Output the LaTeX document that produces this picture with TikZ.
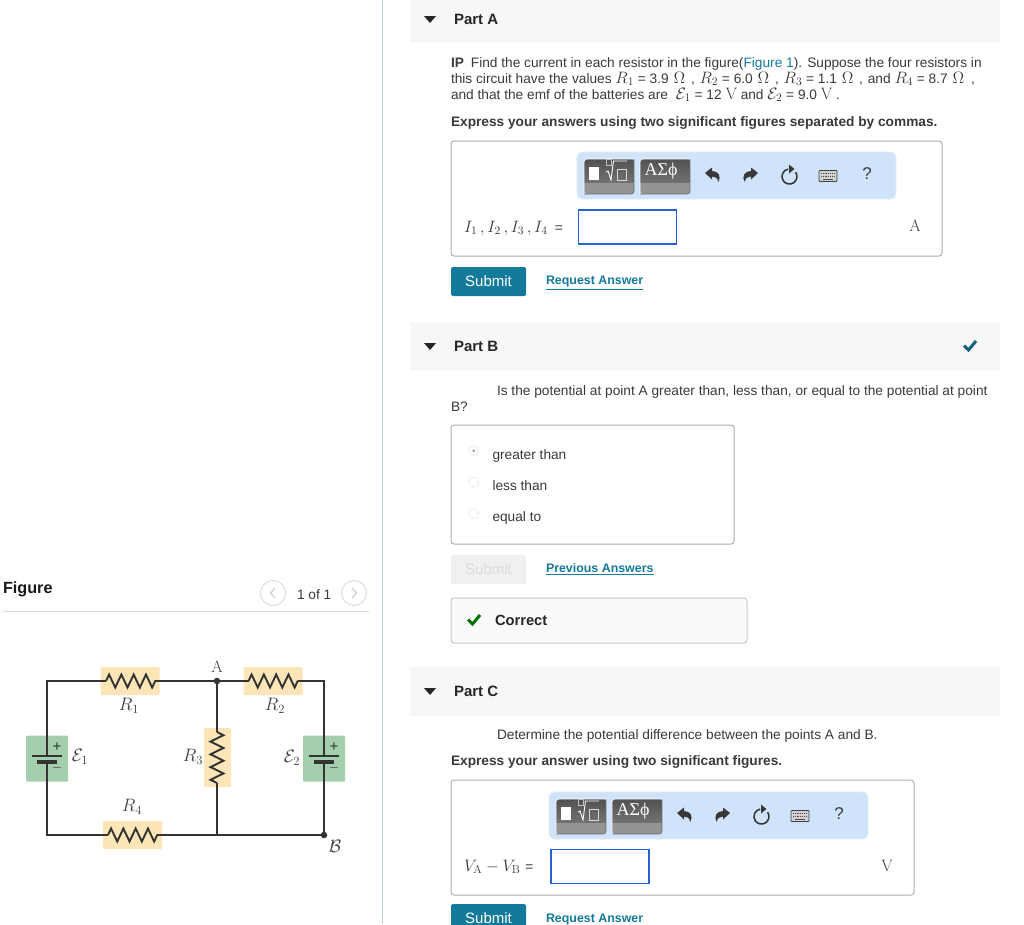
\documentclass[tikz,border=0pt]{standalone}
\usepackage{fix-cm}
\usepackage{amsmath}
\usepackage{fontspec}
\setsansfont{Liberation Sans}
\newfontfamily\greekserif{Liberation Serif}
\usetikzlibrary{decorations.pathmorphing}
\definecolor{inktext}{HTML}{3A3A3A}
\definecolor{linkteal}{HTML}{147A9C}
\definecolor{barfill}{HTML}{F7F7F7}
\definecolor{toolblue}{HTML}{CFE4FB}
\definecolor{framegray}{HTML}{ADADAD}
\definecolor{fieldblue}{RGB}{36,96,214}
\definecolor{resfill}{HTML}{FCE5B6}
\definecolor{batfill}{HTML}{A3CFAC}
\definecolor{wirecol}{HTML}{333333}
\definecolor{divblue}{HTML}{BCD3E8}
\newcommand{\sz}[1]{\fontsize{#1}{#1}\selectfont}
\newcommand{\mth}[1]{{\sz{16.5}$#1$}}
\newcommand{\mathbtn}[2]{%
	\begin{scope}
		\clip[rounded corners=3] (#1,7) rectangle ++(#2,35);
		\fill[top color=black!68,bottom color=black!55] (#1,7) rectangle ++(#2,24);
		\fill[black!42] (#1,31) rectangle ++(#2,11);
	\end{scope}
	\draw[white,line width=.7,rounded corners=3] (#1,42) -- (#1,7) -- ++(#2,0);
	\draw[black!60,line width=.6,rounded corners=3] (#1,42) -- ++(#2,0) -- ++(0,-35);
}
\newcommand{\toolbar}[3]{%
	\begin{scope}[shift={(#1,#2)}]
		\node[toolpanel] (#3panel) at (159.5,23.5) {};
		\mathbtn{7}{50}
		\mathbtn{63}{50}
		\fill[white] (12,15) rectangle (22,28);
		\draw[white,line width=.9] (29,20) -- (31,19) -- (34,28) -- (36.5,9) -- (50,9);
		\draw[black!25,line width=.7] (29,7.5) rectangle (34,13);
		\draw[black!15,line width=.8] (40.5,17) rectangle (49,28);
		\node[font=\greekserif\sz{18},text=white] (#3greek) at (84,19) {ΑΣϕ};
		\fill[black!78] (128,21) -- (135,15.5) -- (135,19) .. controls (141,19) and (145,24) .. (141,30) .. controls (141,26) and (138,24.5) .. (135,24.5) -- (135,27.5) -- cycle;
		\fill[black!78] (181,21) -- (174,15.5) -- (174,19) .. controls (168,19) and (164,24) .. (168,30) .. controls (168,26) and (171,24.5) .. (174,24.5) -- (174,27.5) -- cycle;
		\draw[black!78,line width=1.6] (218.6,20.2) arc (-35:260:7.5);
		\fill[black!78] (212,12.5) -- (217.5,17) -- (212,21.5) -- cycle;
		\draw[black!75,fill=black!18,line width=.8,rounded corners=.8] (242,18.5) rectangle (260,29.5);
		\draw[black!70,line width=1.3,dash pattern=on 1 off .8] (244,21.5) -- (258,21.5);
		\draw[black!70,line width=1.3,dash pattern=on 1 off .8] (244,24.5) -- (258,24.5);
		\draw[black!70,line width=1.2] (246,27.5) -- (256,27.5);
		\node[font=\sffamily\sz{17},text=inktext] (#3help) at (290,22) {?};
	\end{scope}
}
\tikzset{
	x=1pt,y=-1pt,
	every node/.style={inner sep=0pt,outer sep=0pt},
	bodytext/.style={anchor=base west,font=\sffamily\sz{13.7},text=inktext},
	boldtext/.style={anchor=base west,font=\sffamily\bfseries\sz{13.7},text=inktext},
	parttitle/.style={anchor=base west,font=\sffamily\bfseries\sz{15},text=black!85},
	partbar/.style={anchor=north west,rectangle,fill=barfill,minimum width=590pt,minimum height=49pt},
	partarrow/.style={fill=black!85},
	answerbox/.style={anchor=north west,rectangle,draw=framegray,line width=1pt,rounded corners=3pt},
	inputbox/.style={anchor=north west,rectangle,draw=fieldblue,line width=1.4pt,minimum width=98pt,minimum height=34pt},
	toolpanel/.style={rectangle,fill=toolblue,draw=black!8,line width=.6pt,rounded corners=5pt,minimum width=319pt,minimum height=47pt},
	submitbtn/.style={anchor=north west,rectangle,fill=linkteal,text=white,rounded corners=1.5pt,font=\sffamily\sz{15},minimum width=75pt,minimum height=29pt},
	linktext/.style={anchor=base west,font=\sffamily\bfseries\sz{12.4},text=linkteal},
	radio/.style={circle,draw=black!8,fill=white,line width=.8pt,minimum size=10pt},
	resbox/.style={rectangle,fill=resfill,rounded corners=1pt},
	batbox/.style={rectangle,fill=batfill,rounded corners=1pt,minimum width=42pt,minimum height=46pt},
	wire/.style={draw=wirecol,line width=1.6pt},
	zigwire/.style={draw=wirecol,line width=1.9pt,line join=miter,decorate,decoration={zigzag,segment length=12.3pt,amplitude=6.5pt}},
	junction/.style={circle,fill=wirecol,minimum size=6.5pt},
	circlabel/.style={font=\sz{18},text=black!75},
	pagebtn/.style={circle,draw=black!13,line width=1pt,minimum size=25pt},
	chevron/.style={draw=black!22,line width=1pt}
}
\begin{document}
\begin{tikzpicture}
	\clip (0,0) rectangle (1024,924);
	\fill[white] (0,0) rectangle (1024,924);

	\coordinate (divtop) at (382,0);
	\coordinate (divbot) at (382,924);
	\draw[divblue,line width=1pt] (divtop) -- (divbot);

	\node[anchor=base west,font=\sffamily\bfseries\sz{16.2},text=black!90] (figtitle) at (3,593.5) {Figure};
	\node[pagebtn] (prevbtn) at (273,593) {};
	\node[pagebtn] (nextbtn) at (354,593) {};
	\draw[chevron] (275,588) -- (270.5,593) -- (275,598);
	\draw[chevron] (352,588) -- (356.5,593) -- (352,598);
	\node[bodytext] (pagecount) at (297,599) {1 of 1};
	\coordinate (figl) at (3,611);
	\coordinate (figr) at (369,611);
	\draw[black!15,line width=.8pt] (figl) -- (figr);

	\node[resbox,minimum width=59pt,minimum height=28pt] (r1) at (130,681) {};
	\node[resbox,minimum width=59pt,minimum height=28pt] (r2) at (273,681) {};
	\node[resbox,minimum width=27pt,minimum height=59pt] (r3) at (217.5,757.5) {};
	\node[resbox,minimum width=59pt,minimum height=28pt] (r4) at (132.5,835) {};
	\node[batbox] (e1) at (47,758.5) {};
	\node[batbox] (e2) at (324,758.5) {};
	\coordinate (tl) at (47,681);
	\coordinate (tr) at (324,681);
	\coordinate (bl) at (47,835);
	\coordinate (j) at (217,835);
	\coordinate (r1a) at (106,681);
	\coordinate (r1b) at (155.2,681);
	\coordinate (r2a) at (248.5,681);
	\coordinate (r2b) at (297.7,681);
	\coordinate (r3a) at (217,732);
	\coordinate (r3b) at (217,783);
	\coordinate (r4a) at (108,835);
	\coordinate (r4b) at (157.2,835);
	\coordinate (e1p) at (47,756);
	\coordinate (e1n) at (47,762);
	\coordinate (e2p) at (324,756);
	\coordinate (e2n) at (324,762);
	\node[junction] (a) at (217,681) {};
	\node[junction] (b) at (324,835) {};
	\draw[wire] (e1p) -- (tl) -- (r1a);
	\draw[wire] (r1b) -- (a);
	\draw[wire] (a) -- (r2a);
	\draw[wire] (r2b) -- (tr) -- (e2p);
	\draw[wire] (e2n) -- (b);
	\draw[wire] (b) -- (j);
	\draw[wire] (j) -- (r4b);
	\draw[wire] (r4a) -- (bl) -- (e1n);
	\draw[wire] (a) -- (r3a);
	\draw[wire] (r3b) -- (j);
	\draw[zigwire] (r1a) -- (r1b);
	\draw[zigwire] (r2a) -- (r2b);
	\draw[zigwire] (r4a) -- (r4b);
	\draw[zigwire,decoration={segment length=12.75pt}] (r3a) -- (r3b);
	\draw[wirecol,line width=1.8pt] (32,756) -- (62,756);
	\draw[wirecol,line width=3.2pt] (37,762) -- (57,762);
	\draw[wirecol,line width=1.8pt] (309,756) -- (339,756);
	\draw[wirecol,line width=3.2pt] (314,762) -- (334,762);
	\node[font=\sffamily\sz{15},text=black!80] (e1plus) at (57,747) {+};
	\node[font=\sffamily\sz{14},text=black!60] (e1minus) at (57,769) {–};
	\node[font=\sffamily\sz{15},text=black!80] (e2plus) at (334,747) {+};
	\node[font=\sffamily\sz{14},text=black!60] (e2minus) at (334,769) {–};
	\node[circlabel] (r1lab) at (129,706) {$R_1$};
	\node[circlabel] (r2lab) at (275,706) {$R_2$};
	\node[circlabel] (r3lab) at (193,757) {$R_3$};
	\node[circlabel] (r4lab) at (132,807) {$R_4$};
	\node[circlabel] (e1lab) at (80,757) {$\mathcal{E}_1$};
	\node[circlabel] (e2lab) at (292,758) {$\mathcal{E}_2$};
	\node[circlabel,font=\rmfamily\sz{16.5}] (alab) at (217,667) {A};
	\node[circlabel] (blab) at (335,846) {$\mathcal{B}$};

	\node[partbar,minimum height=43pt] (barA) at (410,0) {};
	\node[partbar] (barB) at (410,322) {};
	\node[partbar] (barC) at (410,667) {};
	\fill[partarrow] (424,16) -- (436,16) -- (430,23) -- cycle;
	\fill[partarrow] (424,343) -- (436,343) -- (430,350) -- cycle;
	\fill[partarrow] (424,688) -- (436,688) -- (430,695) -- cycle;
	\node[parttitle] (titleA) at (454,24) {Part A};
	\node[parttitle] (titleB) at (454,351) {Part B};
	\node[parttitle] (titleC) at (454,696) {Part C};
	\draw[linkteal!80!black,line width=3pt] (964,345.5) -- (968.5,350) -- (976,341);

	\node[bodytext] (lineA1) at (451,67) {\textbf{IP}\hspace{7pt}Find the current in each resistor in the figure({\color{linkteal}Figure 1}). Suppose the four resistors in};
	\node[bodytext] (lineA2) at (451,83) {this circuit have the values \mth{R_1} = 3.9\hspace{1pt} \mth{\Omega}\hspace{2pt} ,\hspace{1pt} \mth{R_2} = 6.0\hspace{1pt} \mth{\Omega}\hspace{2pt} ,\hspace{1pt} \mth{R_3} = 1.1\hspace{1pt} \mth{\Omega}\hspace{2pt} ,\hspace{1pt} and \mth{R_4} = 8.7\hspace{1pt} \mth{\Omega}\hspace{3pt} ,};
	\node[bodytext] (lineA3) at (451,99) {and that the emf of the batteries are\hspace{4pt} \mth{\mathcal{E}_1} = 12 \mth{\mathrm{V}} and \mth{\mathcal{E}_2} = 9.0 \mth{\mathrm{V}} .};
	\node[boldtext] (exprA) at (451,126) {Express your answers using two significant figures separated by commas.};

	\node[answerbox,minimum width=491pt,minimum height=115pt] (ansA) at (451,141) {};
	\toolbar{577}{152}{tA}
	\node[anchor=base west,font=\sz{16.5},text=inktext] (eqA) at (464,232) {$I_1\,,I_2\,,I_3\,,I_4$ \sffamily\sz{13.7}\,=};
	\node[inputbox] (inA) at (578.5,210) {};
	\node[font=\rmfamily\sz{16.5},text=inktext] (unitA) at (915,226) {A};
	\node[submitbtn] (subA) at (451,267) {Submit};
	\node[linktext] (reqA) at (546,284.5) {\underline{Request Answer}};

	\node[bodytext] (lineB1) at (497,395) {Is the potential at point A greater than, less than, or equal to the potential at point};
	\node[bodytext] (lineB2) at (451,411) {B?};
	\node[answerbox,minimum width=283pt,minimum height=119pt] (radiobox) at (451,425) {};
	\node[radio] (opt1) at (473.7,450.7) {};
	\node[radio] (opt2) at (473.7,482) {};
	\node[radio] (opt3) at (473.7,513.5) {};
	\fill[black!45] (opt1) circle (1.4);
	\node[bodytext] (opt1lab) at (492.5,459) {greater than};
	\node[bodytext] (opt2lab) at (492.5,490) {less than};
	\node[bodytext] (opt3lab) at (492.5,521) {equal to};
	\node[submitbtn,fill=black!6,text=black!14] (subB) at (451,555) {Submit};
	\node[linktext] (prevB) at (546,572) {\underline{Previous Answers}};
	\node[answerbox,draw=black!22,fill=black!2,minimum width=296pt,minimum height=45pt] (correctbox) at (451,598) {};
	\draw[green!45!black,line width=3pt] (468,619.5) -- (472.5,624) -- (480,615);
	\node[boldtext,font=\sffamily\bfseries\sz{14.7},text=black!85] (correctlab) at (495,625) {Correct};

	\node[bodytext] (lineC1) at (497,739) {Determine the potential difference between the points A and B.};
	\node[boldtext] (exprC) at (451,765) {Express your answer using two significant figures.};
	\node[answerbox,minimum width=463pt,minimum height=115pt] (ansC) at (451,780) {};
	\toolbar{549}{792}{tC}
	\node[anchor=base west,font=\sz{16.5},text=inktext] (eqC) at (464,871) {$V_{\mathrm{A}}-V_{\mathrm{B}}$ \sffamily\sz{13.7}=};
	\node[inputbox] (inC) at (551,849.5) {};
	\node[font=\rmfamily\sz{16.5},text=inktext] (unitC) at (887,865.5) {V};
	\node[submitbtn] (subC) at (451,904) {Submit};
	\node[linktext] (reqC) at (546,922.5) {Request Answer};
\end{tikzpicture}
\end{document}
